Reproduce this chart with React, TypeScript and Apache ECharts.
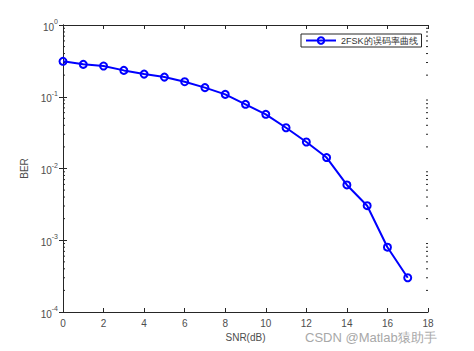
import React, { useEffect, useRef } from "react";
import * as echarts from "echarts";

const snr = [0, 1, 2, 3, 4, 5, 6, 7, 8, 9, 10, 11, 12, 13, 14, 15, 16, 17];
const ber = [0.312, 0.283, 0.268, 0.233, 0.207, 0.188, 0.162, 0.134, 0.108, 0.0785, 0.0569, 0.037, 0.0234, 0.0142, 0.0059, 0.00303, 0.0008, 0.0003];
const seriesName = "2FSK的误码率曲线";
const xTicks = [0, 2, 4, 6, 8, 10, 12, 14, 16, 18];
const decades = [-4, -3, -2, -1];
const minorMultipliers = [2, 3, 4, 5, 6, 7, 8, 9];

const AXIS = "#262626";
const LABEL = "#4d4d4d";
const FONT = "Liberation Sans, Arial, sans-serif";

export default function App() {
  const ref = useRef<HTMLDivElement>(null);
  useEffect(() => {
    if (!ref.current) return;
    const chart = echarts.init(ref.current, undefined, { renderer: "svg" });
    const minorData: number[][] = [];
    decades.forEach((d) => minorMultipliers.forEach((m) => minorData.push([xTicks[0], m * Math.pow(10, d)])));
    const xMin = xTicks[0];
    const xMax = xTicks[xTicks.length - 1];
    const yLabel = (v: number) => {
      const e = Math.round(Math.log10(v));
      return `{b|10}{s|${e}}`;
    };
    const rich = {
      b: { fontSize: 10, color: LABEL, fontFamily: FONT, lineHeight: 14, verticalAlign: "bottom" },
      s: { fontSize: 7, color: LABEL, fontFamily: FONT, lineHeight: 8, verticalAlign: "top" },
    };
    chart.setOption({
      animation: false,
      backgroundColor: "#ffffff",
      textStyle: { fontFamily: FONT },
      grid: { left: 63, right: 46, top: 25, bottom: 39, containLabel: false },
      legend: {
        left: 301,
        top: 34,
        padding: [2, 4],
        borderColor: AXIS,
        borderWidth: 1,
        backgroundColor: "#fff",
        itemWidth: 30,
        itemHeight: 8,
        itemGap: 4,
        textStyle: { fontSize: 9, color: "#333", fontFamily: FONT },
        data: [seriesName],
      },
      xAxis: [
        {
          type: "value",
          min: xMin,
          max: xMax,
          interval: 2,
          position: "bottom",
          name: "SNR(dB)",
          nameLocation: "middle",
          nameGap: 20,
          nameTextStyle: { fontSize: 10, color: LABEL, fontFamily: FONT },
          axisLine: { lineStyle: { color: AXIS, width: 1 } },
          axisTick: { inside: true, length: 4, lineStyle: { color: AXIS } },
          axisLabel: { fontSize: 10, color: LABEL, margin: 6, fontFamily: FONT },
          splitLine: { show: false },
        },
        {
          type: "value",
          min: xMin,
          max: xMax,
          interval: 2,
          position: "top",
          axisLine: { lineStyle: { color: AXIS, width: 1 } },
          axisTick: { inside: true, length: 4, lineStyle: { color: AXIS } },
          axisLabel: { show: false },
          splitLine: { show: false },
        },
      ],
      yAxis: [
        {
          type: "log",
          logBase: 10,
          min: 1e-4,
          max: 1,
          position: "left",
          name: "BER",
          nameLocation: "middle",
          nameGap: 31,
          nameRotate: 90,
          nameTextStyle: { fontSize: 10, color: LABEL, fontFamily: FONT },
          axisLine: { show: true, lineStyle: { color: AXIS, width: 1 } },
          axisTick: { show: true, inside: true, length: 4, lineStyle: { color: AXIS } },
          axisLabel: { formatter: yLabel, rich, margin: 5 },
          splitLine: { show: false },
        },
        {
          type: "log",
          logBase: 10,
          min: 1e-4,
          max: 1,
          position: "right",
          axisLine: { show: true, lineStyle: { color: AXIS, width: 1 } },
          axisTick: { show: true, inside: true, length: 4, lineStyle: { color: AXIS } },
          axisLabel: { show: false },
          splitLine: { show: false },
        },
      ],
      series: [
        {
          type: "custom",
          xAxisIndex: 0,
          yAxisIndex: 0,
          silent: true,
          clip: false,
          data: minorData,
          renderItem: (params: any, api: any) => {
            const v = api.value(1);
            const pl = api.coord([xMin, v]);
            const pr = api.coord([xMax, v]);
            const st = { stroke: AXIS, lineWidth: 1 };
            return {
              type: "group",
              children: [
                { type: "line", shape: { x1: pl[0], y1: pl[1], x2: pl[0] + 2, y2: pl[1] }, style: st },
                { type: "line", shape: { x1: pr[0], y1: pr[1], x2: pr[0] - 2, y2: pr[1] }, style: st },
              ],
            };
          },
        },
        {
          name: seriesName,
          type: "line",
          xAxisIndex: 0,
          yAxisIndex: 0,
          data: snr.map((x, i) => [x, ber[i]]),
          symbol: "circle",
          symbolSize: 7,
          lineStyle: { color: "#0000ff", width: 2 },
          itemStyle: { color: "rgba(255,255,255,0)", borderColor: "#0000ff", borderWidth: 2 },
          z: 5,
        },
      ],
      graphic: [
        {
          type: "text",
          left: 305,
          top: 331,
          style: { text: "CSDN @Matlab猿助手", fontSize: 13, fill: "#a8a8a8", fontFamily: FONT },
        },
      ],
    });
    return () => chart.dispose();
  }, []);
  return <div ref={ref} style={{ position: "fixed", left: 0, top: 0, width: 474, height: 351 }} />;
}
